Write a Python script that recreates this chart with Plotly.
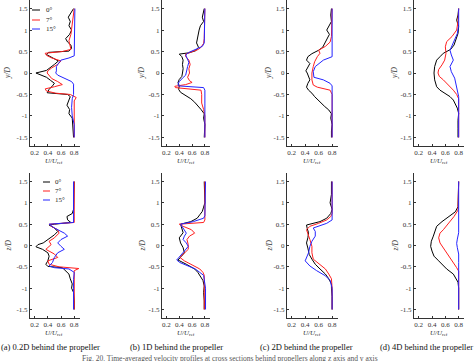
import plotly.graph_objects as go

W, H = 474, 361

# ---------------- data ----------------
labels = ["0°", "7°", "15°"]
x_tick_vals = [0.2, 0.4, 0.6, 0.8]
x_tick_text = ["0.2", "0.4", "0.6", "0.8"]
y_tick_vals = [-1.5, -1, -0.5, 0, 0.5, 1, 1.5]
y_tick_text = ["-1.5", "-1", "-0.5", "0", "0.5", "1", "1.5"]
captions = ["(a) 0.2D behind the propeller", "(b) 1D behind the propeller",
            "(c) 2D behind the propeller", "(d) 4D behind the propeller"]

# ---- top row: profiles along y (U/Uref vs y/D) ----
# (a) 0.2D
ya_0_pos = [1.5, 1.4, 1.3, 1.2, 1.1, 1.0, 0.9, 0.8, 0.72, 0.65, 0.57, 0.51, 0.48, 0.43, 0.36, 0.28, 0.2, 0.12, 0.06, 0.0,
            -0.05, -0.1, -0.17, -0.24, -0.3, -0.38, -0.46, -0.5, -0.55, -0.65, -0.75, -0.85, -0.95, -1.05, -1.2, -1.35, -1.5]
ya_0_u = [0.79, 0.75, 0.71, 0.74, 0.72, 0.76, 0.73, 0.67, 0.70, 0.75, 0.76, 0.72, 0.41, 0.38, 0.47, 0.56, 0.50, 0.43, 0.38, 0.22,
          0.30, 0.38, 0.44, 0.50, 0.47, 0.42, 0.39, 0.70, 0.74, 0.72, 0.69, 0.73, 0.72, 0.77, 0.78, 0.79, 0.79]
ya_7_pos = [1.5, 1.3, 1.1, 0.9, 0.75, 0.62, 0.55, 0.5, 0.46, 0.41, 0.35, 0.28, 0.2, 0.12, 0.05, 0.0, -0.06, -0.13, -0.2, -0.27,
            -0.32, -0.37, -0.42, -0.47, -0.5, -0.57, -0.65, -0.8, -1.0, -1.5]
ya_7_u = [0.80, 0.78, 0.77, 0.75, 0.72, 0.74, 0.75, 0.62, 0.36, 0.38, 0.46, 0.60, 0.55, 0.46, 0.40, 0.39, 0.42, 0.46, 0.55, 0.62,
          0.50, 0.36, 0.38, 0.52, 0.74, 0.83, 0.80, 0.80, 0.80, 0.80]
ya_15_pos = [1.5, 1.0, 0.6, 0.4, 0.35, 0.3, 0.22, 0.15, 0.05, 0.0, -0.05, -0.1, -0.15, -0.2, -0.26, -0.5, -0.6, -0.8, -1.0, -1.2, -1.5]
ya_15_u = [0.81, 0.81, 0.81, 0.80, 0.72, 0.60, 0.56, 0.53, 0.53, 0.52, 0.55, 0.62, 0.70, 0.76, 0.79, 0.79, 0.77, 0.76, 0.77, 0.80, 0.80]

# (b) 1D
yb_0_pos = [1.5, 1.4, 1.3, 1.2, 1.1, 1.0, 0.9, 0.8, 0.7, 0.6, 0.52, 0.47, 0.44, 0.38, 0.3, 0.2, 0.1, 0.0, -0.08, -0.15, -0.22,
            -0.3, -0.38, -0.45, -0.52, -0.6, -0.68, -0.76, -0.85, -0.95, -1.05, -1.2, -1.35, -1.5]
yb_0_u = [0.79, 0.77, 0.76, 0.78, 0.73, 0.71, 0.70, 0.68, 0.67, 0.70, 0.66, 0.55, 0.40, 0.44, 0.46, 0.45, 0.46, 0.45, 0.44, 0.40, 0.38,
          0.40, 0.39, 0.42, 0.50, 0.58, 0.64, 0.69, 0.74, 0.79, 0.78, 0.80, 0.79, 0.79]
yb_7_pos = [1.5, 1.2, 1.0, 0.8, 0.69, 0.6, 0.55, 0.5, 0.44, 0.38, 0.3, 0.2, 0.1, 0.0, -0.1, -0.18, -0.22, -0.27, -0.31, -0.34,
            -0.4, -0.5, -0.7, -0.85, -1.0, -1.5]
yb_7_u = [0.80, 0.80, 0.79, 0.79, 0.78, 0.74, 0.70, 0.60, 0.50, 0.50, 0.55, 0.57, 0.55, 0.56, 0.53, 0.56, 0.60, 0.50, 0.33, 0.34,
          0.74, 0.75, 0.75, 0.78, 0.80, 0.80]
yb_15_pos = [1.5, 1.0, 0.8, 0.7, 0.62, 0.55, 0.48, 0.42, 0.35, 0.25, 0.15, 0.05, -0.05, -0.12, -0.2, -0.26, -0.3, -0.34, -0.4,
             -0.7, -1.0, -1.5]
yb_15_u = [0.80, 0.80, 0.80, 0.79, 0.76, 0.65, 0.55, 0.50, 0.52, 0.55, 0.53, 0.52, 0.50, 0.45, 0.40, 0.38, 0.39, 0.78, 0.80,
           0.80, 0.80, 0.80]

# (c) 2D
yc_0_pos = [1.5, 1.35, 1.2, 1.1, 1.0, 0.9, 0.8, 0.69, 0.6, 0.53, 0.45, 0.38, 0.3, 0.22, 0.12, 0.05, 0.0, -0.08, -0.16, -0.24,
            -0.33, -0.4, -0.47, -0.55, -0.63, -0.7, -0.78, -0.86, -0.95, -1.05, -1.2, -1.35, -1.5]
yc_0_u = [0.79, 0.78, 0.79, 0.76, 0.72, 0.76, 0.73, 0.69, 0.66, 0.60, 0.50, 0.44, 0.42, 0.47, 0.44, 0.41, 0.43, 0.45, 0.47, 0.44,
          0.42, 0.45, 0.50, 0.54, 0.59, 0.64, 0.69, 0.75, 0.79, 0.78, 0.80, 0.79, 0.79]
yc_7_pos = [1.5, 1.2, 1.0, 0.85, 0.72, 0.62, 0.53, 0.46, 0.38, 0.26, 0.15, 0.0, -0.16, -0.28, -0.33, -0.4, -0.5, -1.0, -1.5]
yc_7_u = [0.80, 0.80, 0.79, 0.79, 0.77, 0.70, 0.60, 0.62, 0.58, 0.54, 0.52, 0.50, 0.50, 0.52, 0.58, 0.77, 0.80, 0.80, 0.80]
yc_15_pos = [1.5, 1.0, 0.5, 0.38, 0.3, 0.22, 0.15, 0.03, -0.05, -0.1, -0.16, -0.24, -0.3, -1.5]
yc_15_u = [0.80, 0.80, 0.80, 0.80, 0.67, 0.60, 0.55, 0.52, 0.52, 0.53, 0.67, 0.77, 0.80, 0.80]

# (d) 4D
yd_0_pos = [1.5, 1.35, 1.23, 1.08, 0.92, 0.77, 0.65, 0.55, 0.46, 0.38, 0.3, 0.15, 0.0, -0.16, -0.32, -0.4, -0.47, -0.55, -0.63,
            -0.7, -0.82, -0.94, -1.1, -1.3, -1.5]
yd_0_u = [0.80, 0.79, 0.77, 0.80, 0.79, 0.75, 0.73, 0.68, 0.57, 0.52, 0.47, 0.44, 0.43, 0.44, 0.47, 0.52, 0.60, 0.67, 0.72,
          0.74, 0.78, 0.80, 0.79, 0.79, 0.79]
yd_7_pos = [1.5, 1.2, 1.0, 0.85, 0.73, 0.61, 0.46, 0.3, 0.19, 0.08, 0.0, -0.08, -0.16, -0.28, -0.4, -0.5, -0.6, -1.0, -1.5]
yd_7_u = [0.80, 0.79, 0.77, 0.70, 0.62, 0.60, 0.61, 0.59, 0.55, 0.50, 0.49, 0.51, 0.57, 0.65, 0.72, 0.77, 0.80, 0.80, 0.80]
yd_15_pos = [1.5, 1.1, 0.92, 0.69, 0.53, 0.42, 0.3, 0.15, 0.03, -0.12, -0.32, -0.55, -1.0, -1.5]
yd_15_u = [0.80, 0.80, 0.78, 0.72, 0.67, 0.69, 0.72, 0.67, 0.69, 0.74, 0.77, 0.80, 0.80, 0.80]

# ---- bottom row: profiles along z (U/Uref vs z/D) ----
# (a) 0.2D
za_0_pos = [1.5, 1.2, 1.0, 0.85, 0.75, 0.68, 0.6, 0.54, 0.5, 0.48, 0.41, 0.33, 0.25, 0.14, 0.06, 0.02, -0.03, -0.09, -0.17,
            -0.25, -0.36, -0.44, -0.49, -0.52, -0.59, -0.67, -0.78, -0.9, -1.0, -1.1, -1.3, -1.5]
za_0_u = [0.80, 0.80, 0.80, 0.79, 0.77, 0.69, 0.70, 0.75, 0.50, 0.42, 0.50, 0.55, 0.50, 0.40, 0.33, 0.25, 0.22, 0.32, 0.40,
          0.42, 0.40, 0.37, 0.40, 0.62, 0.67, 0.72, 0.74, 0.77, 0.76, 0.79, 0.80, 0.80]
za_7_pos = [1.5, 1.0, 0.6, 0.54, 0.5, 0.45, 0.37, 0.29, 0.18, 0.1, 0.02, -0.09, -0.2, -0.28, -0.36, -0.44, -0.5, -0.54, -0.59,
            -0.7, -1.0, -1.5]
za_7_u = [0.80, 0.80, 0.80, 0.80, 0.42, 0.45, 0.55, 0.57, 0.50, 0.42, 0.45, 0.37, 0.50, 0.55, 0.40, 0.42, 0.57, 0.87, 0.80,
          0.80, 0.80, 0.80]
za_15_pos = [1.5, 1.0, 0.6, 0.54, 0.5, 0.41, 0.29, 0.22, 0.14, 0.06, -0.02, -0.09, -0.17, -0.28, -0.4, -0.48, -0.52, -0.55,
             -0.63, -0.8, -1.0, -1.5]
za_15_u = [0.79, 0.79, 0.79, 0.79, 0.42, 0.50, 0.65, 0.70, 0.60, 0.55, 0.60, 0.65, 0.55, 0.50, 0.47, 0.42, 0.50, 0.72,
           0.80, 0.79, 0.79, 0.79]

# (b) 1D
zb_0_pos = [1.5, 1.2, 1.0, 0.9, 0.8, 0.72, 0.64, 0.56, 0.5, 0.45, 0.3, 0.18, 0.06, -0.05, -0.17, -0.26, -0.34, -0.44, -0.55,
            -0.63, -0.71, -0.82, -0.95, -1.1, -1.3, -1.5]
zb_0_u = [0.79, 0.79, 0.80, 0.78, 0.76, 0.72, 0.68, 0.58, 0.42, 0.43, 0.46, 0.40, 0.42, 0.46, 0.48, 0.43, 0.38, 0.51, 0.64,
          0.69, 0.72, 0.77, 0.79, 0.78, 0.79, 0.79]
zb_7_pos = [1.5, 1.0, 0.6, 0.54, 0.5, 0.45, 0.37, 0.29, 0.22, 0.14, 0.02, -0.09, -0.21, -0.28, -0.36, -0.48, -0.55, -0.63,
            -0.7, -1.0, -1.5]
zb_7_u = [0.80, 0.80, 0.80, 0.78, 0.40, 0.46, 0.59, 0.64, 0.56, 0.52, 0.54, 0.54, 0.46, 0.41, 0.48, 0.62, 0.72, 0.77,
          0.79, 0.79, 0.79]
zb_15_pos = [1.5, 1.0, 0.7, 0.64, 0.56, 0.5, 0.45, 0.37, 0.29, 0.22, 0.14, 0.06, -0.02, -0.13, -0.25, -0.34, -0.4, -0.48,
             -0.55, -0.63, -0.7, -1.0, -1.5]
zb_15_u = [0.81, 0.81, 0.80, 0.78, 0.62, 0.42, 0.44, 0.48, 0.51, 0.48, 0.46, 0.51, 0.54, 0.48, 0.41, 0.36, 0.41, 0.54,
           0.65, 0.72, 0.78, 0.81, 0.81]

# (c) 2D
zc_0_pos = [1.5, 1.2, 1.0, 0.85, 0.75, 0.64, 0.56, 0.52, 0.48, 0.4, 0.3, 0.18, 0.06, -0.06, -0.21, -0.32, -0.44, -0.55,
            -0.67, -0.78, -0.9, -1.0, -1.2, -1.5]
zc_0_u = [0.79, 0.79, 0.77, 0.80, 0.78, 0.72, 0.62, 0.50, 0.42, 0.43, 0.45, 0.44, 0.42, 0.44, 0.46, 0.50, 0.55, 0.62,
          0.70, 0.75, 0.79, 0.79, 0.80, 0.80]
zc_7_pos = [1.5, 1.0, 0.75, 0.68, 0.6, 0.52, 0.45, 0.37, 0.25, 0.14, -0.02, -0.17, -0.32, -0.44, -0.55, -0.67, -0.78, -1.0, -1.5]
zc_7_u = [0.80, 0.80, 0.80, 0.78, 0.72, 0.60, 0.47, 0.42, 0.45, 0.47, 0.50, 0.50, 0.52, 0.62, 0.70, 0.75, 0.79, 0.80, 0.80]
zc_15_pos = [1.5, 1.0, 0.65, 0.6, 0.52, 0.45, 0.41, 0.33, 0.22, 0.1, -0.02, -0.17, -0.28, -0.36, -0.48, -0.59, -0.71, -0.82,
             -1.0, -1.5]
zc_15_u = [0.80, 0.80, 0.80, 0.80, 0.72, 0.60, 0.52, 0.55, 0.55, 0.50, 0.47, 0.45, 0.42, 0.40, 0.47, 0.57, 0.70, 0.77,
           0.80, 0.80]

# (d) 4D
zd_0_pos = [1.5, 1.1, 0.91, 0.79, 0.68, 0.56, 0.45, 0.33, 0.22, 0.1, -0.02, -0.13, -0.25, -0.36, -0.48, -0.55, -0.67, -0.75,
            -0.86, -1.0, -1.2, -1.5]
zd_0_u = [0.80, 0.80, 0.79, 0.75, 0.65, 0.55, 0.47, 0.45, 0.42, 0.39, 0.38, 0.40, 0.43, 0.50, 0.57, 0.62, 0.72, 0.75,
          0.79, 0.80, 0.80, 0.80]
zd_7_pos = [1.5, 0.83, 0.68, 0.6, 0.48, 0.37, 0.29, 0.18, 0.06, -0.05, -0.17, -0.28, -0.4, -0.52, -0.6, -1.5]
zd_7_u = [0.80, 0.79, 0.73, 0.69, 0.62, 0.57, 0.52, 0.50, 0.52, 0.57, 0.62, 0.67, 0.72, 0.77, 0.80, 0.80]
zd_15_pos = [1.5, 0.8, 0.6, 0.5, 0.3, 0.15, 0.05, -0.05, -0.2, -0.4, -1.5]
zd_15_u = [0.80, 0.80, 0.79, 0.80, 0.80, 0.78, 0.77, 0.78, 0.80, 0.80, 0.80]

# ---------------- styling / layout ----------------
COLORS = ["#000000", "#ff1f1f", "#2424ff"]
FONT = "Liberation Serif, Times New Roman, serif"

panels = [
    [(ya_0_u, ya_0_pos), (ya_7_u, ya_7_pos), (ya_15_u, ya_15_pos)],
    [(yb_0_u, yb_0_pos), (yb_7_u, yb_7_pos), (yb_15_u, yb_15_pos)],
    [(yc_0_u, yc_0_pos), (yc_7_u, yc_7_pos), (yc_15_u, yc_15_pos)],
    [(yd_0_u, yd_0_pos), (yd_7_u, yd_7_pos), (yd_15_u, yd_15_pos)],
    [(za_0_u, za_0_pos), (za_7_u, za_7_pos), (za_15_u, za_15_pos)],
    [(zb_0_u, zb_0_pos), (zb_7_u, zb_7_pos), (zb_15_u, zb_15_pos)],
    [(zc_0_u, zc_0_pos), (zc_7_u, zc_7_pos), (zc_15_u, zc_15_pos)],
    [(zd_0_u, zd_0_pos), (zd_7_u, zd_7_pos), (zd_15_u, zd_15_pos)],
]

col_px = [(30, 79.5), (162, 210), (287, 337.5), (414, 464)]
row_px = [(0, 146), (173, 318)]
X_RANGE = [0.13, 0.88]
Y_RANGE = [-1.7, 1.7]

fig = go.Figure()
layout = dict(width=W, height=H, margin=dict(l=0, r=0, t=0, b=0),
              paper_bgcolor="white", plot_bgcolor="white", showlegend=False,
              font=dict(family=FONT, size=7, color="#222"))

annotations = []
shapes = []

for i, series in enumerate(panels):
    r, c = divmod(i, 4)
    k = "" if i == 0 else str(i + 1)
    for j, (u, pos) in enumerate(series):
        fig.add_trace(go.Scatter(x=u, y=pos, mode="lines", name=labels[j],
                                 line=dict(color=COLORS[j], width=1),
                                 xaxis="x" + k, yaxis="y" + k))
    x0, x1 = col_px[c]
    y0, y1 = row_px[r]
    layout["xaxis" + k] = dict(domain=[x0 / W, x1 / W], anchor="y" + k, range=X_RANGE,
                               tickvals=x_tick_vals, ticktext=x_tick_text,
                               showline=True, linecolor="#333", linewidth=1, showgrid=False,
                               zeroline=False, ticks="inside", ticklen=2, tickcolor="#333",
                               tickfont=dict(family=FONT, size=7, color="#333"))
    layout["yaxis" + k] = dict(domain=[(H - y1) / H, (H - y0) / H], anchor="x" + k, range=Y_RANGE,
                               tickvals=y_tick_vals, ticktext=y_tick_text,
                               showline=True, linecolor="#333", linewidth=1, showgrid=False,
                               zeroline=False, ticks="inside", ticklen=2, tickcolor="#333",
                               tickfont=dict(family=FONT, size=7, color="#333"))
    # axis titles
    annotations.append(dict(text="<i>U/U</i><sub>ref</sub>", xref="x" + k, yref="paper",
                            x=0.5, y=(H - (y1 + 15)) / H, showarrow=False,
                            font=dict(family=FONT, size=7, color="#333"), xanchor="center", yanchor="middle"))
    ylab_x = [8, 142, 269, 395][c]
    annotations.append(dict(text="<i>y/D</i>" if r == 0 else "<i>z/D</i>", xref="paper", yref="paper",
                            x=ylab_x / W, y=(H - (y0 + y1) / 2) / H, showarrow=False, textangle=-90,
                            font=dict(family=FONT, size=7.5, color="#333"), xanchor="center", yanchor="middle"))

# manual legends inside panel (a) of each row
leg_cfg = [((32, 40), 44, [10, 20, 29]), ((43, 50), 53, [182, 191, 200])]
for (lx0, lx1), tx, rows in leg_cfg:
    for j, ry in enumerate(rows):
        shapes.append(dict(type="line", xref="paper", yref="paper",
                           x0=lx0 / W, x1=lx1 / W, y0=(H - ry) / H, y1=(H - ry) / H,
                           line=dict(color=COLORS[j], width=1)))
        annotations.append(dict(text=labels[j], xref="paper", yref="paper", x=tx / W, y=(H - ry) / H,
                                xanchor="left", yanchor="middle", showarrow=False,
                                font=dict(family=FONT, size=7, color="#222")))

# captions
cap_x = [50, 176, 306, 426]
for c, t in enumerate(captions):
    annotations.append(dict(text=t, xref="paper", yref="paper", x=cap_x[c] / W, y=(H - 347) / H,
                            xanchor="center", yanchor="middle", showarrow=False,
                            font=dict(family=FONT, size=8.5, color="#111")))
annotations.append(dict(text="Fig. 20. Time-averaged velocity profiles at cross sections behind propellers along z axis and y axis",
                        xref="paper", yref="paper", x=230 / W, y=(H - 358) / H, xanchor="center", yanchor="middle",
                        showarrow=False, font=dict(family=FONT, size=7.5, color="#555")))

layout["annotations"] = annotations
layout["shapes"] = shapes
fig.update_layout(**layout)
fig.write_html("out.html", config={"displayModeBar": False},
               post_script="document.body.style.margin='0';document.body.style.padding='0';")
